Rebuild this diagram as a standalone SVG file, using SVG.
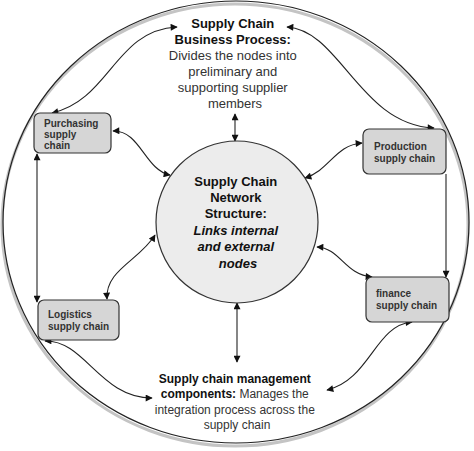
<svg xmlns="http://www.w3.org/2000/svg" width="474" height="451" viewBox="0 0 474 451">
<style>
text{font-family:"Liberation Sans",Arial,sans-serif;}
.b{font-weight:bold;font-size:13px;fill:#111;}
.r{font-size:13px;fill:#333;}
.b2{font-weight:bold;font-size:12px;fill:#111;}
.r2{font-size:12px;fill:#333;}
.bi{font-weight:bold;font-style:italic;font-size:13px;fill:#111;}
.box{fill:#d6d6d6;stroke:#333;stroke-width:1.2;}
.bt{font-weight:bold;font-size:10px;fill:#333;}
.c{fill:none;stroke:#222;stroke-width:1.1;}
</style>
<defs>
<marker id="ah" viewBox="0 0 10 10" refX="9" refY="5" markerWidth="8" markerHeight="7" markerUnits="userSpaceOnUse" orient="auto-start-reverse">
<path d="M0,0 L10,5 L0,10 z" fill="#111"/>
</marker>
</defs>
<rect width="474" height="451" fill="#fff"/>
<g id="outer">
<ellipse cx="236" cy="223" rx="233" ry="221" fill="none" stroke="#c4c4c4" stroke-width="3" transform="translate(-1,2)"/>
<ellipse cx="236" cy="222" rx="233" ry="221" fill="none" stroke="#222" stroke-width="1.2"/>
</g>
<g id="connectors">
<path class="c" d="M52 113 C 110 100, 115 30, 177 27" marker-start="url(#ah)" marker-end="url(#ah)"/>
<path class="c" d="M287 27 C 340 30, 360 125, 434 128" marker-start="url(#ah)" marker-end="url(#ah)"/>
<path class="c" d="M235 114 L 235 141" marker-start="url(#ah)" marker-end="url(#ah)"/>
<path class="c" d="M113 131 C 140 130, 145 170, 170 175" marker-start="url(#ah)" marker-end="url(#ah)"/>
<path class="c" d="M305 178 C 330 170, 335 145, 362 143" marker-start="url(#ah)" marker-end="url(#ah)"/>
<path class="c" d="M37 154 L 37 302" marker-start="url(#ah)" marker-end="url(#ah)"/>
<path class="c" d="M107 299 C 105 270, 140 260, 155 235" marker-start="url(#ah)" marker-end="url(#ah)"/>
<path class="c" d="M45 341 C 85 340, 100 398, 152 398" marker-start="url(#ah)" marker-end="url(#ah)"/>
<path class="c" d="M237 303 L 237 362" marker-start="url(#ah)" marker-end="url(#ah)"/>
<path class="c" d="M317 247 C 340 248, 345 275, 372 277" marker-start="url(#ah)" marker-end="url(#ah)"/>
<path class="c" d="M446 174 L 446 277" marker-end="url(#ah)"/>
<path class="c" d="M327 390 C 370 380, 375 325, 412 322" marker-start="url(#ah)" marker-end="url(#ah)"/>
</g>
<g id="network">
<circle cx="237" cy="222" r="81" fill="#ececec" stroke="#333" stroke-width="1.2"/>
<text text-anchor="middle" x="238">
<tspan class="b" x="238" y="186">Supply Chain</tspan>
<tspan class="b" x="238" y="202">Network</tspan>
<tspan class="b" x="238" y="218">Structure:</tspan>
<tspan class="bi" x="238" y="235">Links internal</tspan>
<tspan class="bi" x="238" y="251">and external</tspan>
<tspan class="bi" x="238" y="268">nodes</tspan>
</text>
</g>
<g id="business-process">
<text text-anchor="middle">
<tspan class="b" x="235" y="28">Supply Chain</tspan>
<tspan class="b" x="235" y="44">Business Process:</tspan>
<tspan class="r" x="235" y="60">Divides the nodes into</tspan>
<tspan class="r" x="235" y="76">preliminary and</tspan>
<tspan class="r" x="235" y="92">supporting supplier</tspan>
<tspan class="r" x="235" y="108">members</tspan>
</text>
</g>
<g id="management">
<text text-anchor="middle">
<tspan class="b2" x="237" y="383">Supply chain management</tspan>
<tspan x="237" y="398"><tspan class="b2">components:</tspan><tspan class="r2"> Manages the</tspan></tspan>
<tspan class="r2" x="237" y="414">integration process across the</tspan>
<tspan class="r2" x="237" y="429">supply chain</tspan>
</text>
</g>
<g id="purchasing">
<rect class="box" x="34" y="113" width="77" height="40" rx="6"/>
<text class="bt"><tspan x="44" y="127">Purchasing</tspan><tspan x="44" y="138">supply</tspan><tspan x="44" y="149">chain</tspan></text>
</g>
<g id="production">
<rect class="box" x="363" y="129" width="83" height="45" rx="6"/>
<text class="bt"><tspan x="374" y="150">Production</tspan><tspan x="374" y="162">supply chain</tspan></text>
</g>
<g id="logistics">
<rect class="box" x="38" y="300" width="81" height="40" rx="6"/>
<text class="bt"><tspan x="48" y="318">Logistics</tspan><tspan x="48" y="330">supply chain</tspan></text>
</g>
<g id="finance">
<rect class="box" x="366" y="277" width="83" height="45" rx="6"/>
<text class="bt"><tspan x="376" y="297">finance</tspan><tspan x="376" y="309">supply chain</tspan></text>
</g>
</svg>
